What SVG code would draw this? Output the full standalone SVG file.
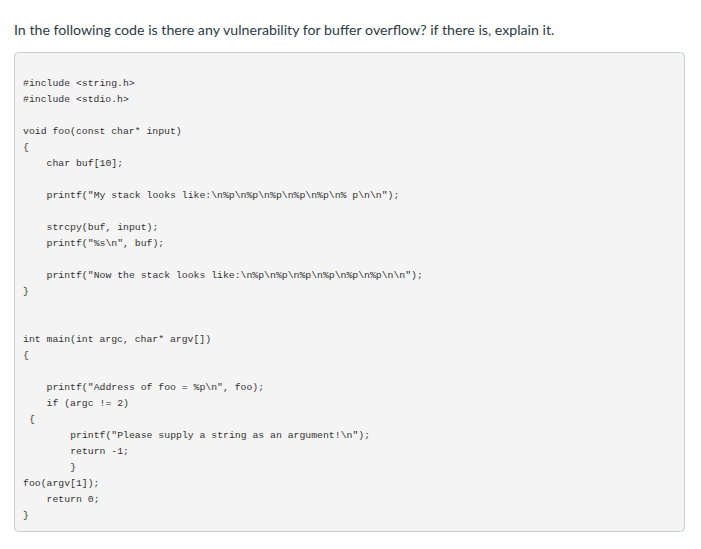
<svg xmlns="http://www.w3.org/2000/svg" width="701" height="549" viewBox="0 0 701 549">
<style>
.t{font-family:Lato,"Liberation Sans",sans-serif;font-size:14.2px;fill:#2d3b45}
.c{font-family:"Liberation Mono",monospace;font-size:9.8px;fill:#333}
</style>
<rect width="701" height="549" fill="#fff"/>
<text class="t" x="14" y="35">In the following code is there any vulnerability for buffer overflow? if there is, explain it.</text>
<rect x="14.5" y="52.5" width="670" height="479" rx="4" fill="#f4f4f4" stroke="#c7cdd1"/>
<g class="c">
<text x="23" y="86">#include &lt;string.h&gt;</text>
<text x="23" y="102">#include &lt;stdio.h&gt;</text>
<text x="23" y="134">void foo(const char* input)</text>
<text x="23" y="150">{</text>
<text x="46.6" y="166">char buf[10];</text>
<text x="46.6" y="198">printf("My stack looks like:\n%p\n%p\n%p\n%p\n%p\n% p\n\n");</text>
<text x="46.6" y="230">strcpy(buf, input);</text>
<text x="46.6" y="246">printf("%s\n", buf);</text>
<text x="46.6" y="278">printf("Now the stack looks like:\n%p\n%p\n%p\n%p\n%p\n%p\n\n");</text>
<text x="23" y="294">}</text>
<text x="23" y="342">int main(int argc, char* argv[])</text>
<text x="23" y="358">{</text>
<text x="46.6" y="390">printf("Address of foo = %p\n", foo);</text>
<text x="46.6" y="406">if (argc != 2)</text>
<text x="28.9" y="422">{</text>
<text x="70.2" y="438">printf("Please supply a string as an argument!\n");</text>
<text x="70.2" y="454">return -1;</text>
<text x="70.2" y="470">}</text>
<text x="23" y="486">foo(argv[1]);</text>
<text x="46.6" y="502">return 0;</text>
<text x="23" y="518">}</text>
</g>
</svg>
